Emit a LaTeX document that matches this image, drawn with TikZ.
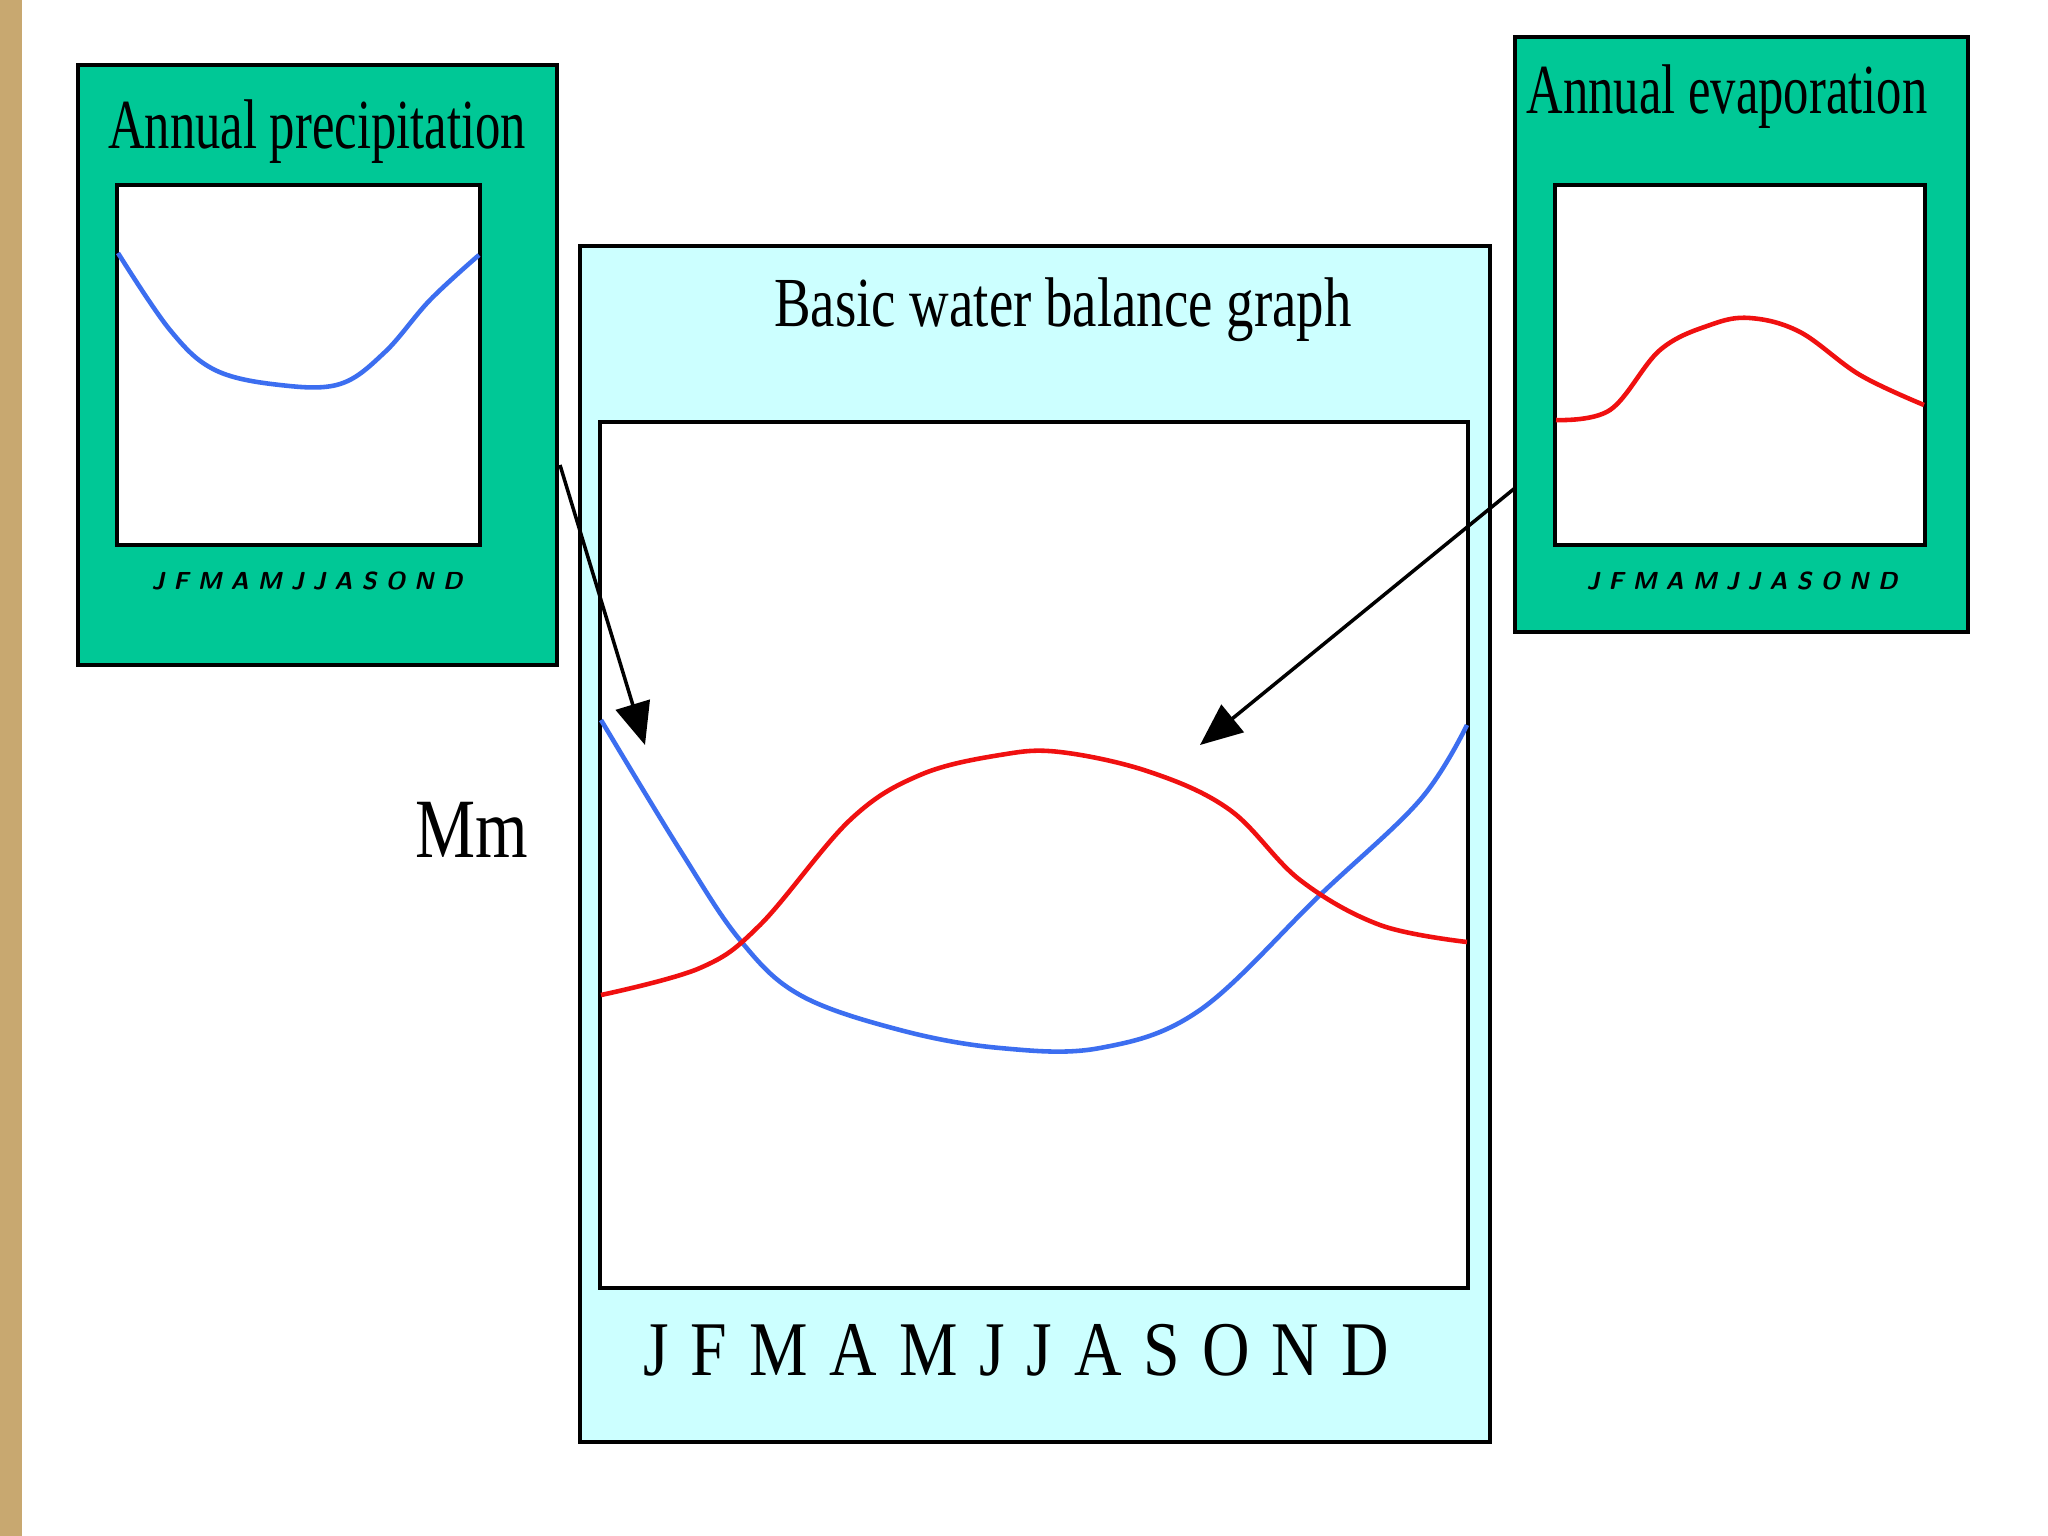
\documentclass[tikz,border=0pt]{standalone}
\usepackage{fontspec}
\setmainfont{Liberation Serif}
\usetikzlibrary{arrows.meta}
\definecolor{tan}{HTML}{C8A870}
\definecolor{grn}{HTML}{00C896}
\definecolor{cy}{HTML}{CCFFFF}
\definecolor{bl}{HTML}{3C6EF0}
\definecolor{rd}{HTML}{F01010}
\tikzset{box/.style={draw=black,line width=1.2pt},
curve/.style={line width=1.3pt,smooth,tension=0.6},
arr/.style={line width=1pt,-{Triangle[length=12pt,width=10pt]}},
ttl/.style={font=\fontsize{20}{22}\selectfont},
mon/.style={font=\fontsize{7}{8}\selectfont\sffamily\bfseries\itshape}}
\begin{document}
\begin{tikzpicture}[x=0.01cm,y=-0.01cm]
\useasboundingbox (0,0) rectangle (2048,1536);
\fill[white] (0,0) rectangle (2048,1536);
\fill[tan] (0,0) rectangle (22,1536);
% left
\draw[box,fill=grn] (78,65) rectangle (557,665);
\draw[box,fill=white] (117,185) rectangle (480,545);
\node[ttl] (pt) at (317,132) {\scalebox{0.72}[1]{Annual precipitation}};
\node[mon] (pm) at (307,581) {J F M A M J J A S O N D};
\draw[bl,curve] plot coordinates {(118,253) (170,330) (215,370) (280,385) (340,384) (385,352) (430,300) (479,255)};
% right
\draw[box,fill=grn] (1515,37) rectangle (1968,632);
\draw[box,fill=white] (1555,185) rectangle (1925,545);
\node[ttl] (et) at (1727,97) {\scalebox{0.72}[1]{Annual evaporation}};
\node[mon] (em) at (1742,581) {J F M A M J J A S O N D};
\draw[rd,curve] plot coordinates {(1556,420) (1610,410) (1660,350) (1710,325) (1750,318) (1800,332) (1860,375) (1924,405)};
% center
\draw[box,fill=cy] (580,246) rectangle (1490,1442);
\draw[box,fill=white] (600,422) rectangle (1468,1288);
\node[ttl] (ct) at (1063,310) {\scalebox{0.78}[1]{Basic water balance graph}};
\node[font=\fontsize{22}{24}\selectfont] (cm) at (1016,1350) {\scalebox{0.85}[1]{J\,\,F\,\,M\,\,A\,\,M\,\,J\,\,J\,\,A\,\,S\,\,O\,\,N\,\,D}};
\node[font=\fontsize{24}{26}\selectfont] (mm) at (472,830) {\scalebox{0.8}[1]{Mm}};
\draw[bl,curve] plot coordinates {(601,720) (680,850) (740,940) (800,995) (900,1030) (1000,1048) (1100,1048) (1200,1010) (1320,895) (1420,800) (1467,725)};
\draw[rd,curve] plot coordinates {(601,995) (700,968) (760,925) (850,820) (920,775) (1000,755) (1060,752) (1150,772) (1230,810) (1300,880) (1380,925) (1467,942)};
\coordinate (a1) at (560,465);
\coordinate (a2) at (645,745);
\coordinate (b1) at (1515,488);
\coordinate (b2) at (1200,745);
\draw[arr] (a1) -- (a2);
\draw[arr] (b1) -- (b2);
\end{tikzpicture}
\end{document}
